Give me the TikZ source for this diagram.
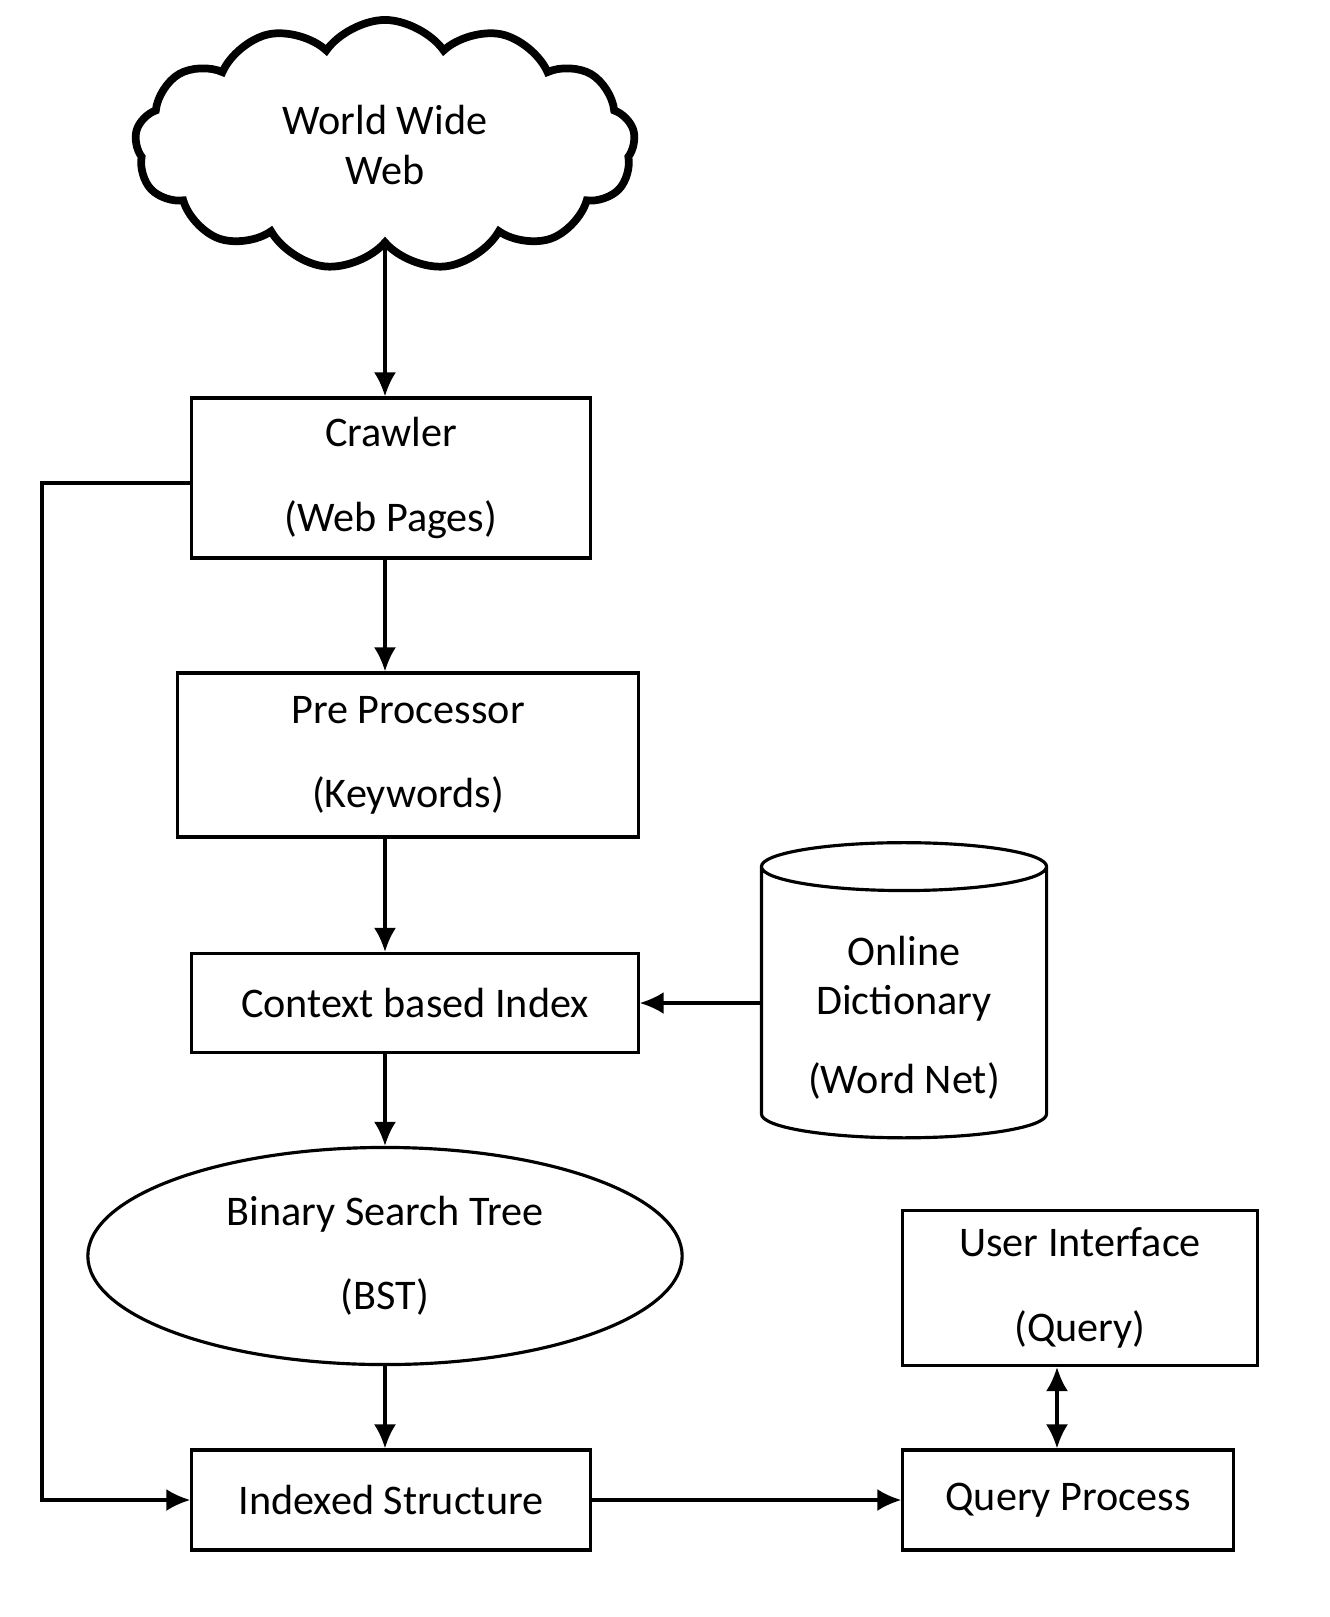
\documentclass[tikz,border=0pt]{standalone}
\usepackage{fontspec}
\setmainfont{Carlito}
\usetikzlibrary{shapes.symbols,shapes.geometric,arrows.meta}
\begin{document}
\begin{tikzpicture}[x=0.01cm,y=-0.01cm,
  font=\fontsize{12}{14}\selectfont,
  box/.style={draw,line width=0.9pt,align=center,inner sep=0pt},
  arr/.style={line width=0.9pt,-{Latex[length=2.4mm,width=2.2mm]}},
  darr/.style={line width=0.9pt,{Latex[length=2.4mm,width=2.2mm]}-{Latex[length=2.4mm,width=2.2mm]}}]
\useasboundingbox (0,0) rectangle (1330,1617);

\node[box,cloud,cloud puffs=13,cloud puff arc=110,aspect=2,line width=2.2pt,
  minimum width=5.0cm,minimum height=2.5cm] (web) at (385,145) {World Wide\\Web};
\node[box,minimum width=3.98cm,minimum height=1.6cm] (crawler) at (391,478)
  {Crawler\\[0.35cm](Web Pages)};
\node[box,minimum width=4.6cm,minimum height=1.64cm] (pre) at (408,755)
  {Pre Processor\\[0.35cm](Keywords)};
\node[box,minimum width=4.46cm,minimum height=0.99cm] (ctx) at (415,1003)
  {Context based Index};
\node[box,cylinder,shape border rotate=90,aspect=0.25,
  minimum width=2.85cm,minimum height=2.95cm] (dict) at (904,1003)
  {\\[0.1cm]Online\\Dictionary\\[0.3cm](Word Net)};
\node[box,ellipse,minimum width=5.94cm,minimum height=2.17cm] (bst) at (385,1256)
  {Binary Search Tree\\[0.35cm](BST)};
\node[box,minimum width=3.98cm,minimum height=1.0cm] (idx) at (391,1500)
  {Indexed Structure};
\node[box,minimum width=3.55cm,minimum height=1.55cm] (ui) at (1080,1288)
  {User Interface\\[0.35cm](Query)};
\node[box,minimum width=3.3cm,minimum height=1.0cm] (qp) at (1068,1500)
  {Query Process};
\coordinate (lx) at (42,0);

\draw[arr] (web.south) -- (web.south |- crawler.north);
\draw[arr] (crawler.south -| web.south) -- (pre.north -| web.south);
\draw[arr] (pre.south -| web.south) -- (ctx.north -| web.south);
\draw[arr] (dict.west |- ctx.east) -- (ctx.east);
\draw[arr] (ctx.south -| web.south) -- (bst.north -| web.south);
\draw[arr] (bst.south) -- (bst.south |- idx.north);
\draw[arr] (idx.east) -- (qp.west);
\draw[darr] (qp.north -| 1057,0) -- (ui.south -| 1057,0);
\draw[arr] ([yshift=-0.05cm]crawler.west) -- ([yshift=-0.05cm]crawler.west -| lx)
  -- (idx.west -| lx) -- (idx.west);
\end{tikzpicture}
\end{document}
